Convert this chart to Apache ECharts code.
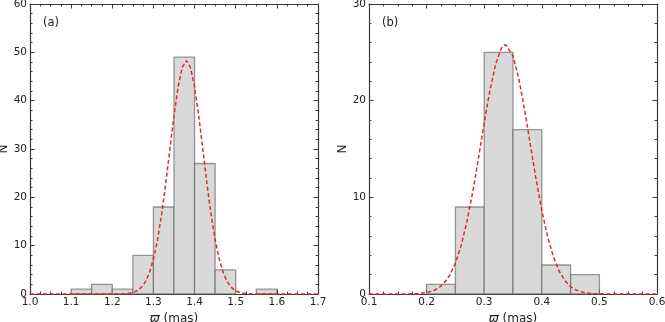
<!DOCTYPE html>
<html>
<head>
<meta charset="utf-8">
<script src="https://cdn.jsdelivr.net/npm/echarts@6/dist/echarts.min.js"></script>
<style>html,body{margin:0;padding:0;background:#fff;}#c{width:665px;height:322px;}</style>
</head>
<body>
<div id="c"></div>
<script>
// Panel (a)
var edgesA = [1.10, 1.15, 1.20, 1.25, 1.30, 1.35, 1.40, 1.45, 1.50, 1.55, 1.60];
var countsA = [1, 2, 1, 8, 18, 49, 27, 5, 0, 1];
var curveAX = [1.00, 1.20, 1.22, 1.23, 1.24, 1.25, 1.26, 1.27, 1.28, 1.29, 1.30, 1.31, 1.32, 1.33, 1.34, 1.35, 1.36, 1.37, 1.38, 1.39, 1.40, 1.41, 1.42, 1.43, 1.44, 1.45, 1.46, 1.47, 1.48, 1.49, 1.50, 1.51, 1.52, 1.53, 1.54, 1.56, 1.70];
var curveAY = [0, 0.003, 0.02, 0.06, 0.14, 0.32, 0.66, 1.32, 2.45, 4.34, 7.2, 11.2, 16.5, 22.9, 30.0, 36.9, 42.9, 46.9, 48.3, 46.9, 42.9, 36.9, 30.0, 22.9, 16.5, 11.2, 7.2, 4.34, 2.45, 1.32, 0.66, 0.32, 0.14, 0.06, 0.02, 0, 0];
// Panel (b)
var edgesB = [0.20, 0.25, 0.30, 0.35, 0.40, 0.45, 0.50];
var countsB = [1, 9, 25, 17, 3, 2];
var curveBX = [0.10, 0.16, 0.17, 0.18, 0.19, 0.20, 0.21, 0.22, 0.23, 0.24, 0.25, 0.26, 0.27, 0.28, 0.29, 0.30, 0.31, 0.32, 0.33, 0.337, 0.34, 0.35, 0.36, 0.37, 0.38, 0.39, 0.40, 0.41, 0.42, 0.43, 0.44, 0.45, 0.46, 0.47, 0.48, 0.49, 0.50, 0.52, 0.60];
var curveBY = [0, 0.004, 0.012, 0.029, 0.067, 0.15, 0.30, 0.59, 1.10, 1.93, 3.20, 5.03, 7.48, 10.53, 14.03, 17.70, 21.10, 23.82, 25.45, 25.8, 25.74, 24.63, 22.30, 19.11, 15.50, 11.89, 8.64, 5.94, 3.86, 2.38, 1.38, 0.76, 0.40, 0.20, 0.092, 0.041, 0.017, 0.002, 0];
// axes
var xTicksA = {min: 1.0, max: 1.7, interval: 0.1};
var xTicksB = {min: 0.1, max: 0.6, interval: 0.1};
var yTicksA = {min: 0, max: 60, interval: 10};
var yTicksB = {min: 0, max: 30, interval: 10};
var panelLabels = ['(a)', '(b)'];
var xNameSym = 'ϖ';
var xNameUnit = ' (mas)';
var yName = 'N';

var FONT = 'DejaVu Sans';
var TXT = '#222';
var AX = '#3a3a3a';

function histData(edges, counts) {
  var d = [];
  for (var i = 0; i < counts.length; i++) d.push([edges[i], edges[i + 1], counts[i]]);
  return d;
}
function pairs(xs, ys) { return xs.map(function (x, i) { return [x, ys[i]]; }); }

function renderBar(params, api) {
  var c = api.value(2);
  if (!c) return null;
  var p1 = api.coord([api.value(0), c]);
  var p2 = api.coord([api.value(1), 0]);
  return {
    type: 'rect',
    shape: {x: p1[0], y: p1[1], width: p2[0] - p1[0], height: p2[1] - p1[1]},
    style: {fill: '#d9d9d9', stroke: 'rgba(90,90,90,0.6)', lineWidth: 1.3}
  };
}

function xAxis(grid, t, pos) {
  var bottom = pos === 'bottom';
  return {
    type: 'value', gridIndex: grid, position: pos, min: t.min, max: t.max, interval: t.interval,
    name: bottom ? '{i|' + xNameSym + '}' + xNameUnit : '', nameLocation: 'middle', nameGap: 18,
    nameTextStyle: {fontFamily: FONT, fontSize: 12, color: TXT,
      rich: {i: {fontFamily: FONT, fontSize: 12, fontStyle: 'italic', color: TXT}}},
    axisLine: {show: true, onZero: false, lineStyle: {color: AX, width: 1.2}},
    axisTick: {show: true, inside: true, length: 4.5, lineStyle: {color: AX}},
    minorTick: {show: true, splitNumber: 4, length: 2.5, lineStyle: {color: AX}},
    axisLabel: {show: bottom, margin: 3, fontFamily: FONT, fontSize: 10.5, color: TXT,
      formatter: function (v) { return v.toFixed(1); }},
    splitLine: {show: false}
  };
}
function yAxis(grid, t, pos) {
  var left = pos === 'left';
  return {
    type: 'value', gridIndex: grid, position: pos, min: t.min, max: t.max, interval: t.interval,
    name: left ? yName : '', nameLocation: 'middle', nameGap: 18,
    nameTextStyle: {fontFamily: FONT, fontSize: 12, color: TXT},
    axisLine: {show: true, onZero: false, lineStyle: {color: AX, width: 1.2}},
    axisTick: {show: true, inside: true, length: 4.5, lineStyle: {color: AX}},
    minorTick: {show: true, splitNumber: 5, length: 2.5, lineStyle: {color: AX}},
    axisLabel: {show: left, margin: 3, fontFamily: FONT, fontSize: 10.5, color: TXT},
    splitLine: {show: false}
  };
}

var chart = echarts.init(document.getElementById('c'), null, {renderer: 'canvas'});
chart.setOption({
  animation: false,
  backgroundColor: '#fff',
  grid: [
    {left: 30, right: 347, top: 4, bottom: 28, containLabel: false, outerBoundsMode: 'none'},
    {left: 369, right: 8, top: 4, bottom: 28, containLabel: false, outerBoundsMode: 'none'}
  ],
  title: [
    {text: panelLabels[0], left: 38, top: 12, textStyle: {fontFamily: FONT, fontSize: 11.5, fontWeight: 'normal', color: TXT}},
    {text: panelLabels[1], left: 377, top: 12, textStyle: {fontFamily: FONT, fontSize: 11.5, fontWeight: 'normal', color: TXT}}
  ],
  xAxis: [xAxis(0, xTicksA, 'bottom'), xAxis(0, xTicksA, 'top'), xAxis(1, xTicksB, 'bottom'), xAxis(1, xTicksB, 'top')],
  yAxis: [yAxis(0, yTicksA, 'left'), yAxis(0, yTicksA, 'right'), yAxis(1, yTicksB, 'left'), yAxis(1, yTicksB, 'right')],
  series: [
    {type: 'custom', xAxisIndex: 0, yAxisIndex: 0, renderItem: renderBar, data: histData(edgesA, countsA), encode: {x: [0, 1], y: 2}},
    {type: 'line', xAxisIndex: 0, yAxisIndex: 0, data: pairs(curveAX, curveAY), showSymbol: false, symbol: 'none',
      lineStyle: {color: '#e8262a', width: 1.5, type: [4, 2.5]}, z: 5},
    {type: 'custom', xAxisIndex: 2, yAxisIndex: 2, renderItem: renderBar, data: histData(edgesB, countsB), encode: {x: [0, 1], y: 2}},
    {type: 'line', xAxisIndex: 2, yAxisIndex: 2, data: pairs(curveBX, curveBY), showSymbol: false, symbol: 'none',
      lineStyle: {color: '#e8262a', width: 1.5, type: [4, 2.5]}, z: 5}
  ]
});
</script>
</body>
</html>
